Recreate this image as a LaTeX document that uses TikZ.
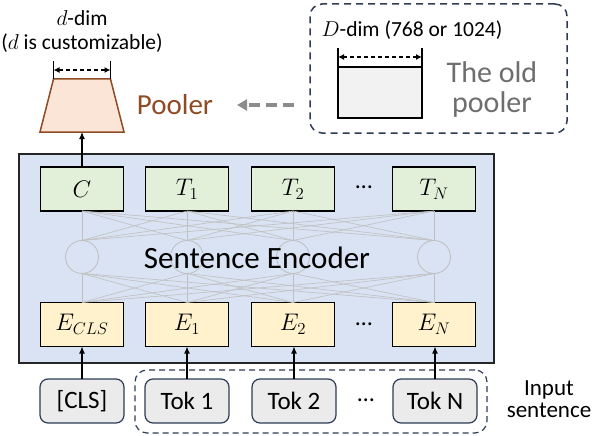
\documentclass[tikz,border=0pt]{standalone}
\usepackage{fix-cm}
\usepackage{fontspec}
\setmainfont{Carlito}
\usetikzlibrary{arrows.meta}
\definecolor{encfill}{HTML}{DAE3F3}
\definecolor{encborder}{HTML}{262626}
\definecolor{tfill}{HTML}{E2F0D9}
\definecolor{efill}{HTML}{FFF2CC}
\definecolor{tokfill}{HTML}{EBEBEB}
\definecolor{navy}{HTML}{2E3B55}
\definecolor{netgray}{HTML}{BFBFBF}
\definecolor{poolfill}{HTML}{FBE5D6}
\definecolor{poolbrown}{HTML}{8E4B24}
\definecolor{oldfill}{HTML}{F2F2F2}
\definecolor{oldgray}{HTML}{6E6E6E}
\definecolor{arrgray}{HTML}{8C8C8C}
\begin{document}
\begin{tikzpicture}[x=1pt,y=-1pt,
  every node/.style={inner sep=0pt, outer sep=0pt},
  topbox/.style={draw=black, line width=1.3pt, fill=tfill, minimum width=83pt, minimum height=44pt, font=\fontsize{24}{28}\selectfont},
  botbox/.style={topbox, fill=efill},
  tokbox/.style={draw=navy, line width=1.2pt, fill=tokfill, rounded corners=8pt, minimum width=84pt, minimum height=44pt, font=\fontsize{25}{29}\selectfont},
  net/.style={draw=netgray, line width=0.6pt},
  neuron/.style={circle, draw=netgray, line width=0.8pt, minimum size=33pt},
  arr/.style={-{Latex[length=7pt,width=6pt]}, line width=1.2pt},
  tick/.style={line width=1.2pt},
  dimarr/.style={{Latex[length=6pt,width=6pt]}-{Latex[length=6pt,width=6pt]}, dash pattern=on 4pt off 3pt, line width=1.3pt},
  dotsty/.style={font=\fontsize{24}{28}\selectfont},
  grayarr/.style={draw=arrgray, line width=3.5pt, dash pattern=on 11pt off 6pt, -{Triangle[length=10pt,width=11pt]}},
]
\useasboundingbox (0,0) rectangle (595,436);

% encoder
\node[draw=encborder, fill=encfill, line width=1.8pt, minimum width=475pt, minimum height=209pt] (enc) at (256.5,258.5) {};

% neurons
\foreach \i/\x in {1/82,2/187,3/293,4/434} \node[neuron] (n\i) at (\x,257) {};

% output boxes
\node[topbox] (C) at (82,189) {$C$};
\node[topbox] (T1) at (187,189) {$T_1$};
\node[topbox] (T2) at (293,189) {$T_2$};
\node[topbox] (TN) at (434,189) {$T_N$};
% embedding boxes
\node[botbox] (E0) at (82,324.5) {$E_{CLS}$};
\node[botbox] (E1) at (187,324.5) {$E_1$};
\node[botbox] (E2) at (293,324.5) {$E_2$};
\node[botbox] (EN) at (434,324.5) {$E_N$};

\foreach \a in {C,T1,T2,TN} \foreach \i in {1,...,4} \draw[net] (\a.south) -- (n\i.north);
\foreach \b in {E0,E1,E2,EN} \foreach \i in {1,...,4} \draw[net] (n\i.south) -- (\b.north);

\node[font=\fontsize{31}{35}\selectfont] (se) at (257,258) {Sentence Encoder};
\node[dotsty] (dt) at (364,187) {…};
\node[dotsty] (de) at (364,324) {…};

% input
\node[draw=navy, dash pattern=on 6pt off 4pt, rounded corners=12pt, line width=1.2pt, minimum width=352pt, minimum height=63pt] (inbox) at (311,401.5) {};
\node[tokbox] (k0) at (82,401) {[CLS]};
\node[tokbox] (k1) at (187,401) {Tok 1};
\node[tokbox] (k2) at (294,401) {Tok 2};
\node[tokbox] (kN) at (435,401) {Tok N};
\node[dotsty] (dk) at (366,400) {…};
\node[align=center, font=\fontsize{23}{22}\selectfont] (intxt) at (549,399) {Input\\sentence};

\draw[arr] (k0.north) -- (E0.south);
\draw[arr] (k1.north) -- (E1.south);
\draw[arr] (k2.north) -- (k2.north |- E2.south);
\draw[arr] (kN.north) -- (kN.north |- EN.south);

% pooler (trapezoid)
\coordinate (ptl) at (53.5,79);
\coordinate (ptr) at (110.5,79);
\coordinate (pbr) at (124,132);
\coordinate (pbl) at (40,132);
\coordinate (pbot) at (82,132);
\draw[draw=poolbrown, fill=poolfill, line width=1.5pt, line join=miter] (ptl) -- (ptr) -- (pbr) -- (pbl) -- cycle;
\draw[arr] (C.north) -- (pbot);
\draw[tick] (ptl) -- ++(0,-18);
\draw[tick] (ptr) -- ++(0,-18);
\draw[dimarr] ([yshift=9pt]ptl) -- ([yshift=9pt]ptr);
\node[font=\fontsize{21.5}{25}\selectfont] (dd) at (82,18) {$d$-dim};
\node[font=\fontsize{21.5}{25}\selectfont] (dc) at (82,43) {($d$ is customizable)};
\node[text=poolbrown, font=\fontsize{29}{33}\selectfont] (ptxt) at (175,105) {Pooler};

% old pooler
\node[draw=navy, dash pattern=on 7pt off 5pt, rounded corners=12pt, line width=1.5pt, minimum width=257pt, minimum height=129pt] (oldbox) at (438.5,68.5) {};
\node[draw=black, line width=1.3pt, fill=oldfill, minimum width=84pt, minimum height=51pt] (old) at (380,92.5) {};
\draw[tick] (old.north west) -- ++(0,-19);
\draw[tick] (old.north east) -- ++(0,-19);
\draw[dimarr] ([yshift=10pt]old.north west) -- ([yshift=10pt]old.north east);
\node[font=\fontsize{21.5}{25}\selectfont] (Dd) at (412,30) {$D$-dim (768 or 1024)};
\node[align=center, text=oldgray, font=\fontsize{30}{30}\selectfont] (oldtxt) at (492,90) {The old\\pooler};

\coordinate (ga) at (294,105);
\coordinate (gb) at (237,105);
\draw[grayarr] (ga) -- (gb);
\end{tikzpicture}
\end{document}
